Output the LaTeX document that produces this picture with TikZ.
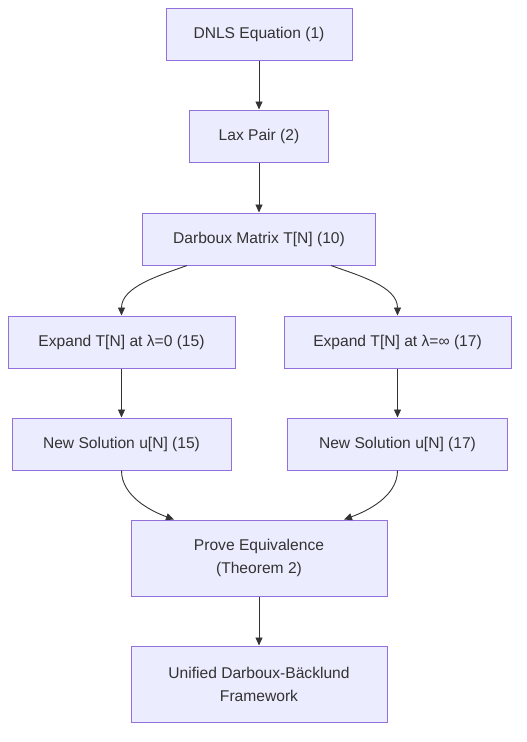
\documentclass[tikz,border=0pt]{standalone}
\usepackage{fontspec}
\setmainfont{Liberation Sans}
\usepackage{xcolor}
\usepackage{tikz}
\usetikzlibrary{arrows.meta}

\definecolor{boxfill}{HTML}{ECECFF}
\definecolor{boxline}{HTML}{9370DB}
\definecolor{ink}{HTML}{333333}

\begin{document}
\begin{tikzpicture}[x=1pt, y=-1pt]
\useasboundingbox (0,0) rectangle (527,742);
\begin{scope}[every node/.style={rectangle, draw=boxline, fill=boxfill, line width=1pt,
    text=ink, align=center, inner sep=0pt, font=\fontsize{15.6}{23}\selectfont}]
    \node[minimum width=186pt, minimum height=52pt] (dnls) at (259,34) {DNLS Equation (1)};
    \node[minimum width=139pt, minimum height=52pt] (lax) at (259,136) {Lax Pair (2)};
    \node[minimum width=233pt, minimum height=52pt] (dm) at (259,239) {Darboux Matrix T[N] (10)};
    \node[minimum width=227pt, minimum height=52pt] (el) at (121.5,342) {Expand T[N] at λ=0 (15)};
    \node[minimum width=227pt, minimum height=52pt] (er) at (397.5,342) {Expand T[N] at λ=∞ (17)};
    \node[minimum width=219pt, minimum height=52pt] (nl) at (121.5,444) {New Solution u[N] (15)};
    \node[minimum width=220pt, minimum height=52pt] (nr) at (397.5,444) {New Solution u[N] (17)};
    \node[minimum width=256pt, minimum height=76pt] (pe) at (259,558) {Prove Equivalence\\(Theorem 2)};
    \node[minimum width=256pt, minimum height=76pt] (uf) at (259,684) {Unified Darboux-Bäcklund\\Framework};
\end{scope}
\begin{scope}[>={Triangle[length=8pt, width=7pt]}, every edge/.style={draw=ink, line width=0.9pt}]
    \path [->] (dnls) edge (lax);
    \path [->] (lax) edge (dm);
    \path [->] ([xshift=-72pt]dm.south) edge[out=200, in=90, looseness=0.9] (el.north);
    \path [->] ([xshift=72pt]dm.south) edge[out=-20, in=90, looseness=0.9] (er.north);
    \path [->] (el) edge (nl);
    \path [->] (er) edge (nr);
    \path [->] (nl.south) edge[out=-90, in=160, looseness=0.9] ([xshift=-85pt]pe.north);
    \path [->] (nr.south) edge[out=-90, in=20, looseness=0.9] ([xshift=85pt]pe.north);
    \path [->] (pe) edge (uf);
\end{scope}
\end{tikzpicture}
\end{document}
